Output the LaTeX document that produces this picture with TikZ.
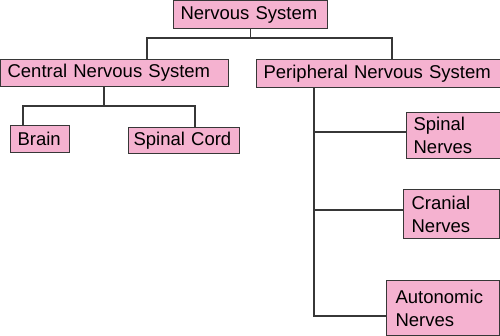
\documentclass[tikz,border=0pt]{standalone}
\usepackage{fontspec}
\setmainfont{Liberation Sans}
\definecolor{boxpink}{RGB}{245,178,208}
\definecolor{boxline}{RGB}{55,55,55}
\tikzset{
  box/.style={draw=boxline, fill=boxpink, line width=1.2pt, anchor=north west,
    inner xsep=7pt, inner ysep=0pt, align=left,
    font=\fontsize{18.5}{23}\selectfont},
  link/.style={draw=boxline, line width=1.2pt}
}
\begin{document}
\begin{tikzpicture}[x=1pt,y=-1pt]
\useasboundingbox (0,0) rectangle (500,336);

\node[box, minimum width=154pt, minimum height=28pt, text width=140pt] (ns) at (173,0) {Nervous System};
\node[box, minimum width=228pt, minimum height=27pt, text width=214pt] (cns) at (0,59) {Central Nervous System};
\node[box, minimum width=244pt, minimum height=28pt, text width=230pt] (pns) at (256,59) {Peripheral Nervous System};

\node[box, minimum width=59pt, minimum height=27pt, text width=45pt] (brain) at (10,125) {Brain};
\node[box, minimum width=111pt, minimum height=26pt, text width=101pt, inner xsep=5pt] (cord) at (128,127) {Spinal Cord};

\node[box, minimum width=94pt, minimum height=46pt, text width=80pt] (spn) at (406,112) {Spinal\\Nerves};
\node[box, minimum width=96pt, minimum height=49pt, text width=80pt, inner xsep=8pt] (crn) at (403,189) {Cranial\\Nerves};
\node[box, minimum width=113pt, minimum height=55pt, text width=95pt, inner xsep=9pt] (aut) at (386,280) {Autonomic\\Nerves};

% top level
\coordinate (tl) at (147,38);
\coordinate (tr) at (392,38);
\draw[link] (ns.south) -- (ns.south |- tl);
\draw[link] (cns.north -| tl) -- (tl) -- (tr) -- (pns.north -| tr);

% central branch
\coordinate (cm) at (104,106);
\coordinate (cl) at (23,106);
\coordinate (cr) at (195,106);
\draw[link] (cm |- cns.south) -- (cm);
\draw[link] (brain.north -| cl) -- (cl) -- (cr) -- (cord.north -| cr);

% peripheral branch
\coordinate (s1) at (314,132);
\coordinate (s2) at (314,210);
\coordinate (s3) at (314,316);
\draw[link] (pns.south -| s3) -- (s3) -- (aut.west |- s3);
\draw[link] (s1) -- (spn.west |- s1);
\draw[link] (s2) -- (crn.west |- s2);
\end{tikzpicture}
\end{document}
